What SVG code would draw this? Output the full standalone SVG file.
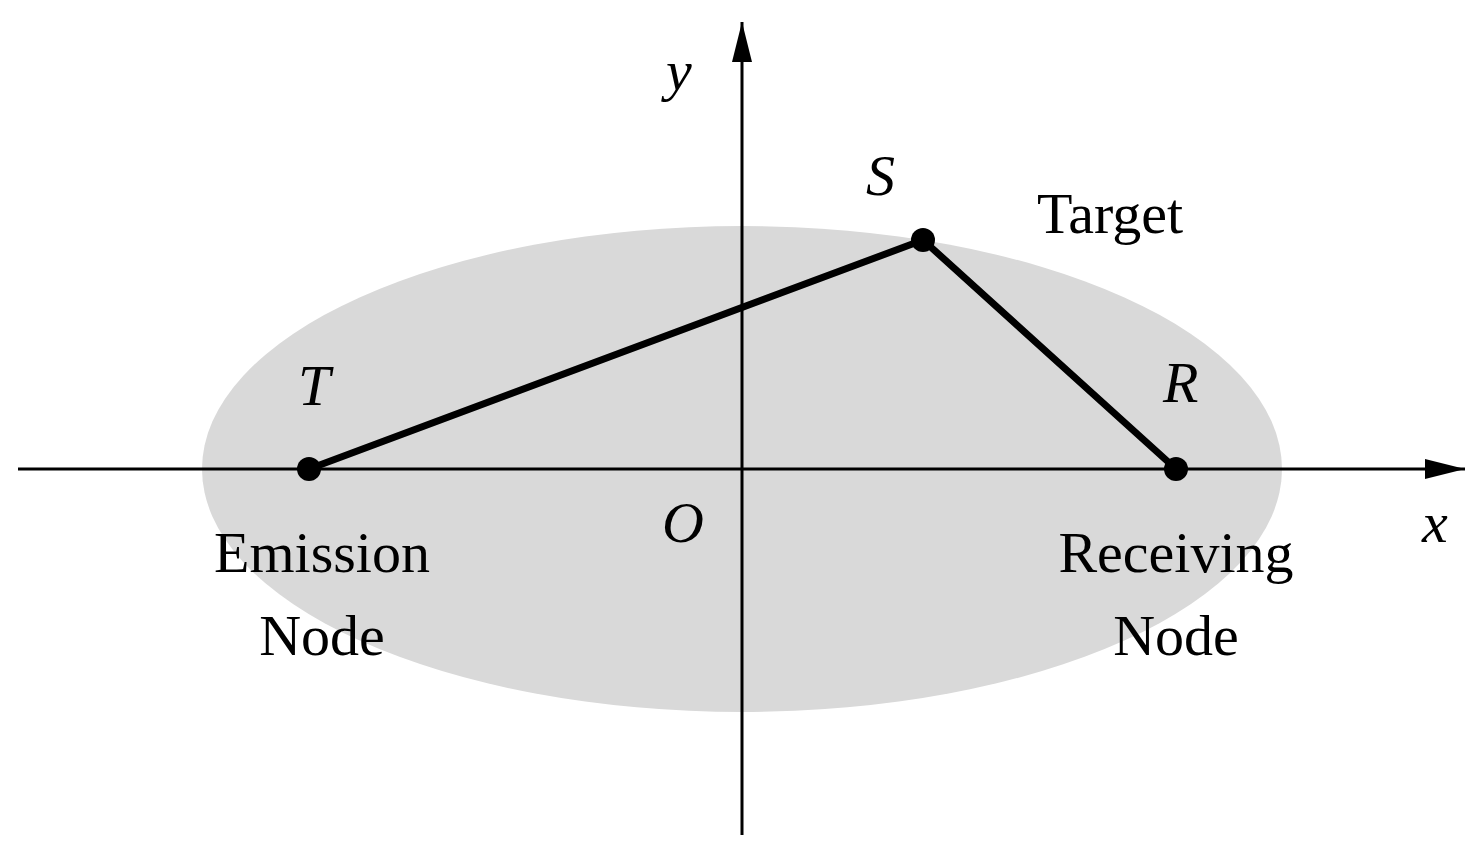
<svg xmlns="http://www.w3.org/2000/svg" width="1482" height="857" viewBox="0 0 1482 857">
<style>
.t{font-family:"Liberation Serif",serif;font-size:58px;fill:#000}
.i{font-style:italic}
</style>
<defs><marker id="a" markerWidth="10" markerHeight="10" refX="9" refY="5" orient="auto" markerUnits="userSpaceOnUse" viewBox="0 0 10 10"><path d="M0,0L10,5L0,10Z"/></marker>
<marker id="ah" viewBox="0 0 40 20" refX="40" refY="10" markerWidth="40" markerHeight="20" orient="auto" markerUnits="userSpaceOnUse"><path d="M0,0L40,10L0,20Z"/></marker></defs>
<rect width="1482" height="857" fill="#fff"/>
<ellipse cx="742" cy="469" rx="540" ry="243" fill="#d9d9d9"/>
<g id="connectors" stroke="#000" fill="none">
<line x1="18" y1="469" x2="1465" y2="469" stroke-width="3" marker-end="url(#ah)"/>
<line x1="742" y1="835" x2="742" y2="22" stroke-width="3" marker-end="url(#ah)"/>
<polyline points="309,469 923,240 1176,469" stroke-width="7" stroke-linejoin="round"/>
</g>
<g id="T"><circle cx="309" cy="469" r="12"/><text class="t i" x="298" y="405">T</text><text class="t" x="322" y="572" text-anchor="middle">Emission</text><text class="t" x="322" y="655" text-anchor="middle">Node</text></g>
<g id="S"><circle cx="923" cy="240" r="12"/><text class="t i" x="866" y="195">S</text><text class="t" x="1110" y="233" text-anchor="middle">Target</text></g>
<g id="R"><circle cx="1176" cy="469" r="12"/><text class="t i" x="1163" y="402">R</text><text class="t" x="1176" y="572" text-anchor="middle">Receiving</text><text class="t" x="1176" y="655" text-anchor="middle">Node</text></g>
<text class="t i" x="662" y="542">O</text>
<text class="t i" x="1422" y="542">x</text>
<text class="t i" x="666" y="90">y</text>
</svg>
